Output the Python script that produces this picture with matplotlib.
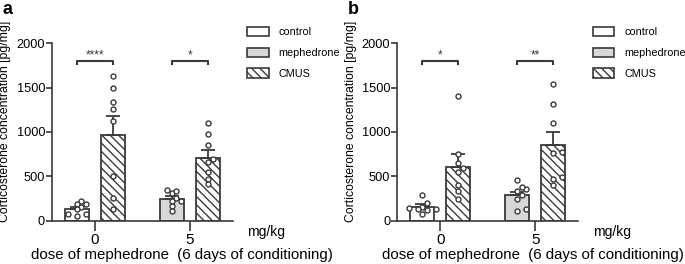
import numpy as np
import matplotlib
matplotlib.use("Agg")
import matplotlib.pyplot as plt
from matplotlib.patches import Patch

plt.rcParams['font.family'] = ['Liberation Sans', 'DejaVu Sans']
plt.rcParams['hatch.linewidth'] = 1.0

# values
doses = ["0", "5"]
legend_labels = ["control", "mephedrone", "CMUS"]

# panel a
a_solid_mean = [135, 245]
a_solid_sem = [25, 40]
a_cmus_mean = [965, 713]
a_cmus_sem = [212, 80]
a_solid_pts = [[230, 195, 190, 160, 130, 75, 60, 80],
               [311, 348, 337, 260, 228, 228, 169, 112]]
a_cmus_pts = [[1632, 1493, 1336, 1257, 1122, 510, 255, 135],
              [1100, 979, 855, 700, 664, 555, 473, 413]]
a_stars = ["****", "*"]

# panel b
b_solid_mean = [158, 293]
b_solid_sem = [30, 37]
b_cmus_mean = [610, 856]
b_cmus_sem = [140, 147]
b_solid_pts = [[292, 200, 160, 145, 140, 130, 125, 80],
               [461, 337, 360, 386, 292, 247, 135, 116]]
b_cmus_pts = [[1400, 750, 650, 590, 545, 400, 340, 245],
              [1540, 1320, 1100, 770, 760, 490, 470, 400]]
b_stars = ["*", "**"]

EDGE = "#3a3a3a"
GRAY = "#d8d8d8"
off = 0.19
width = 0.25


def swarm(vals, xc, ax, xsc=95.0, ysc=0.089, d=5.0):
    # simple beeswarm in pixel space
    placed = []
    xs = np.zeros(len(vals))
    order = np.argsort(vals)
    for i in order:
        y = vals[i] * ysc
        for k in [0, 1, -1, 2, -2, 3, -3]:
            x = k * d * 0.9
            if all((x - px) ** 2 + (y - py) ** 2 >= d ** 2 for px, py in placed):
                break
        placed.append((x, y))
        xs[i] = xc + x / xsc
    ax.plot(xs, vals, 'o', ms=3.6, mfc='white', mec=EDGE, mew=1.0, zorder=5,
            clip_on=False)


def panel(ax, solid_mean, solid_sem, cmus_mean, cmus_sem, solid_pts, cmus_pts, stars, xl_x):
    x = np.arange(len(doses))
    colors = ['white', GRAY]
    for i in x:
        ax.bar(i - off, solid_mean[i], width, color=colors[i], edgecolor=EDGE, lw=1.3, zorder=2)
        ax.bar(i + off, cmus_mean[i], width, color='white', edgecolor=EDGE, lw=1.3,
               hatch='\\\\\\\\', zorder=2)
        ax.errorbar(i - off, solid_mean[i], yerr=[[0], [solid_sem[i]]], color=EDGE,
                    capsize=5, lw=1.3, capthick=1.3, zorder=4)
        ax.errorbar(i + off, cmus_mean[i], yerr=[[0], [cmus_sem[i]]], color=EDGE,
                    capsize=5, lw=1.3, capthick=1.3, zorder=4)
        swarm(solid_pts[i], i - off, ax)
        swarm(cmus_pts[i], i + off, ax)
        # significance bracket
        ax.plot([i - off, i - off, i + off, i + off], [1760, 1800, 1800, 1760],
                color=EDGE, lw=1.5, clip_on=False)
        ax.text(i, 1790, stars[i], ha='center', va='bottom', fontsize=8.5, color=EDGE)

    ax.set_xlim(-0.45, 1.45)
    ax.set_ylim(0, 2000)
    ax.set_xticks(x)
    ax.set_xticklabels(doses, fontsize=11)
    ax.set_yticks([0, 500, 1000, 1500, 2000])
    ax.tick_params(axis='y', labelsize=9.2, length=4, width=1.2, color=EDGE, pad=1)
    ax.tick_params(axis='x', length=7, width=1.2, color=EDGE, pad=2)
    for s in ['top', 'right']:
        ax.spines[s].set_visible(False)
    for s in ['left', 'bottom']:
        ax.spines[s].set_color(EDGE)
        ax.spines[s].set_linewidth(1.2)

    ax.set_ylabel("Corticosterone concentration [pg/mg]", fontsize=8.8)
    ax.yaxis.set_label_coords(-0.225, 0.56)
    ax.text(1.08, -0.06, "mg/kg", transform=ax.transAxes, fontsize=10, va='center')
    ax.text(xl_x, -0.19, "dose of mephedrone  (6 days of conditioning)",
            transform=ax.transAxes, fontsize=10.8, ha='center', va='center')

    handles = [Patch(facecolor='white', edgecolor=EDGE, lw=1.2),
               Patch(facecolor=GRAY, edgecolor=EDGE, lw=1.2),
               Patch(facecolor='white', edgecolor=EDGE, lw=1.2, hatch='\\\\\\\\')]
    ax.legend(handles, legend_labels, loc='upper left', bbox_to_anchor=(1.08, 1.09),
              frameon=False, fontsize=7.8, handlelength=2.0, handleheight=0.95,
              handletextpad=0.9, labelspacing=0.95, borderaxespad=0, borderpad=0)


fig = plt.figure(figsize=(6.85, 2.64), dpi=100)
ax1 = fig.add_axes([0.0759, 0.163, 0.264, 0.674])
ax2 = fig.add_axes([0.580, 0.163, 0.264, 0.674])

panel(ax1, a_solid_mean, a_solid_sem, a_cmus_mean, a_cmus_sem, a_solid_pts, a_cmus_pts,
      a_stars, 0.72)
panel(ax2, b_solid_mean, b_solid_sem, b_cmus_mean, b_cmus_sem, b_solid_pts, b_cmus_pts,
      b_stars, 0.75)

fig.text(0.003, 0.995, "a", fontsize=13, fontweight='bold', va='top')
fig.text(0.508, 0.995, "b", fontsize=13, fontweight='bold', va='top')

fig.savefig("out.png", dpi=100)
